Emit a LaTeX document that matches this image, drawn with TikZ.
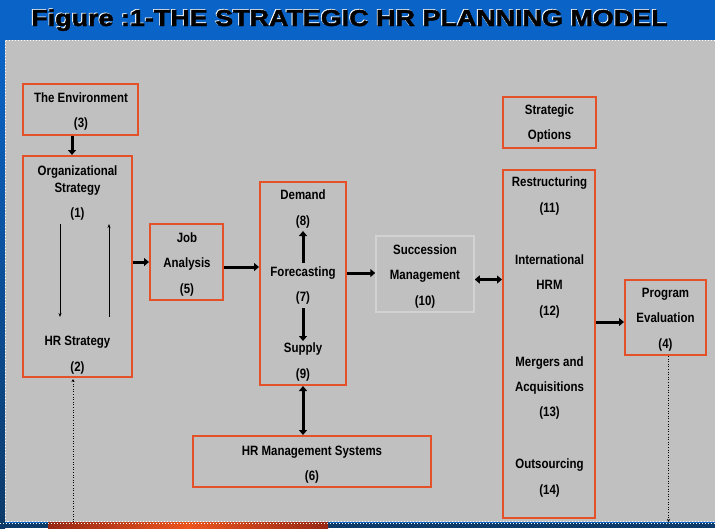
\documentclass[tikz,border=0pt]{standalone}
\usepackage{fontspec}
\setmainfont{Liberation Sans}[FakeStretch=0.85]
\newfontfamily\titlefont{Liberation Sans}[FakeStretch=1.17,FakeBold=2]
\usetikzlibrary{arrows.meta,calc}
\definecolor{bgblue}{RGB}{10,100,200}
\definecolor{navy}{RGB}{12,58,105}
\definecolor{panelgrey}{RGB}{192,192,192}
\definecolor{boxred}{RGB}{228,80,40}
\definecolor{lightbox}{RGB}{210,210,210}
\definecolor{darkred}{RGB}{150,40,20}
\definecolor{brightorange}{RGB}{235,85,30}
\begin{document}
\begin{tikzpicture}[x=1pt,y=-1pt,
  box/.style={draw=boxred,line width=2pt,inner sep=0pt},
  paledbox/.style={draw=lightbox,line width=1.5pt,inner sep=0pt},
  txt/.style={font=\fontsize{13.5}{16}\selectfont\bfseries,inner sep=0pt,anchor=base},
  thickarrow/.style={line width=3pt,-{Triangle[width=8pt,length=5pt]}},
  dblarrow/.style={line width=3pt,{Triangle[width=8pt,length=5pt]}-{Triangle[width=8pt,length=5pt]}},
  thinarrow/.style={line width=0.8pt,-{Stealth[length=4pt,width=3pt]}},
  dotline/.style={line width=0.6pt,dotted,-{Stealth[length=3pt,width=3pt]}},
  titletxt/.style={font=\titlefont\fontsize{23}{28}\selectfont\bfseries,inner sep=0pt,anchor=base}
]
\useasboundingbox (0,0) rectangle (715,528);
% background
\fill[bgblue] (0,0) rectangle (715,528);
\shade[top color=bgblue,bottom color=navy] (0,40) rectangle (5,528);
\fill[panelgrey] (5,40) rectangle (715,522);
\draw[white,dotted,line width=1pt] (5.5,40.5) rectangle (716,521.5);
\fill[navy] (0,522.5) rectangle (715,528);
\shade[left color=darkred,right color=darkred,middle color=brightorange] (48,522.5) rectangle (328,528);
\draw[white,dotted,line width=1pt] (0,523) -- (715,523);

% title
\node[titletxt,text=white] (titleshadow) at (348.6,25.2) {Figure :1-THE STRATEGIC HR PLANNING MODEL};
\node[titletxt,text=black] (title) at (349.5,26) {Figure :1-THE STRATEGIC HR PLANNING MODEL};

% boxes
\node[box,minimum width=115pt,minimum height=51pt] (env) at (80.5,109.5) {};
\node[box,minimum width=109pt,minimum height=221pt] (org) at (77.5,266.5) {};
\node[box,minimum width=73pt,minimum height=76pt] (job) at (186.5,262) {};
\node[box,minimum width=86pt,minimum height=203pt] (fc) at (303,283.5) {};
\node[paledbox,minimum width=98pt,minimum height=76pt] (succ) at (425,274) {};
\node[box,minimum width=93pt,minimum height=51pt] (so) at (549.5,122.5) {};
\node[box,minimum width=92pt,minimum height=348pt] (opts) at (549,344) {};
\node[box,minimum width=81pt,minimum height=75pt] (pe) at (665.5,317.5) {};
\node[box,minimum width=238pt,minimum height=51pt] (hrms) at (312,461.5) {};

% texts
\node[txt] (envA) at (81,102) {The Environment};
\node[txt] (envB) at (81,127) {(3)};
\node[txt] (orgA) at (77.5,175) {Organizational};
\node[txt] (orgB) at (77.5,192) {Strategy};
\node[txt] (orgC) at (77.5,217) {(1)};
\node[txt] (orgD) at (77.5,345) {HR Strategy};
\node[txt] (orgE) at (77.5,371) {(2)};
\node[txt] (jobA) at (187,242) {Job};
\node[txt] (jobB) at (187,267) {Analysis};
\node[txt] (jobC) at (187,293) {(5)};
\node[txt] (fcA) at (303,199.5) {Demand};
\node[txt] (fcB) at (303,225) {(8)};
\node[txt] (fcC) at (303,276) {Forecasting};
\node[txt] (fcD) at (303,301.5) {(7)};
\node[txt] (fcE) at (303,352.5) {Supply};
\node[txt] (fcF) at (303,378.5) {(9)};
\node[txt] (succA) at (425,254) {Succession};
\node[txt] (succB) at (425,279.5) {Management};
\node[txt] (succC) at (425,305) {(10)};
\node[txt] (soA) at (549.5,114) {Strategic};
\node[txt] (soB) at (549.5,139.5) {Options};
\node[txt] (opA) at (549.5,186.5) {Restructuring};
\node[txt] (opB) at (549.5,212.5) {(11)};
\node[txt] (opC) at (549.5,264) {International};
\node[txt] (opD) at (549.5,289.5) {HRM};
\node[txt] (opE) at (549.5,315) {(12)};
\node[txt] (opF) at (549.5,366) {Mergers and};
\node[txt] (opG) at (549.5,391) {Acquisitions};
\node[txt] (opH) at (549.5,416.5) {(13)};
\node[txt] (opI) at (549.5,468.5) {Outsourcing};
\node[txt] (opJ) at (549.5,494) {(14)};
\node[txt] (peA) at (665.5,297.5) {Program};
\node[txt] (peB) at (665.5,322.5) {Evaluation};
\node[txt] (peC) at (665.5,348.5) {(4)};
\node[txt] (hrA) at (312,455) {HR Management Systems};
\node[txt] (hrB) at (312,480.5) {(6)};

% connectors
\draw[thickarrow] ([xshift=-8.5pt]env.south) -- ([xshift=-8.5pt]env.south |- org.north);
\draw[thickarrow] (org.east |- job.west) -- (job.west);
\draw[thickarrow] ([yshift=-5pt]job.east) -- ([yshift=-5pt]job.east -| fc.west);
\coordinate (fcUp0) at (303,263);
\coordinate (fcUp1) at (303,231);
\coordinate (fcDn0) at (303,308);
\coordinate (fcDn1) at (303,341);
\draw[thickarrow] (fcUp0) -- (fcUp1);
\draw[thickarrow] (fcDn0) -- (fcDn1);
\draw[thickarrow] ([yshift=1pt]fc.east |- succ.west) -- ([yshift=1pt]succ.west);
\draw[dblarrow] ([yshift=-5.5pt]succ.east) -- ([yshift=-5.5pt]succ.east -| opts.west);
\draw[thickarrow] ([yshift=-4.5pt]opts.east |- pe.west) -- ([yshift=-4.5pt]pe.west);
\draw[dblarrow] (fc.south) -- (fc.south |- hrms.north);
\coordinate (orgDn0) at (60,224);
\coordinate (orgDn1) at (60,317);
\coordinate (orgUp0) at (109,317);
\coordinate (orgUp1) at (109,224);
\draw[thinarrow] (orgDn0) -- (orgDn1);
\draw[thinarrow] (orgUp0) -- (orgUp1);
\coordinate (peBot) at (668.5,522);
\coordinate (orgBot) at (73,522);
\draw[dotline] (peBot |- pe.south) -- (peBot);
\draw[dotline] (orgBot) -- ([yshift=-1pt]orgBot |- org.south);
\end{tikzpicture}
\end{document}
